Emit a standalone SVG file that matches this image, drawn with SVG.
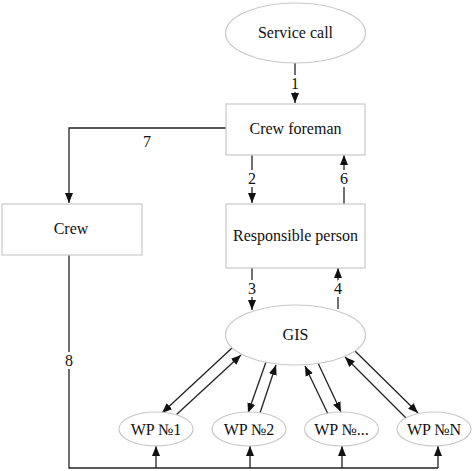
<svg xmlns="http://www.w3.org/2000/svg" width="474" height="471" viewBox="0 0 474 471">
<style>
.node{fill:#fff;stroke:#c8c8c8;stroke-width:1.2}
text{font-family:'Liberation Serif','Times New Roman',Times,serif;font-size:16px;fill:#111;text-anchor:middle}
.lbl{stroke:#fff;stroke-width:6;paint-order:stroke}
.c{fill:none;stroke:#222;stroke-width:1.3}
.a{marker-end:url(#ah)}
</style>
<defs>
<marker id="ah" markerUnits="userSpaceOnUse" markerWidth="10" markerHeight="10" viewBox="0 0 10 10" refX="10" refY="5" orient="auto">
<path d="M0,1 L10,5 L0,9 z" fill="#111"/>
</marker>
</defs>
<rect width="474" height="471" fill="#fff"/>
<g id="connectors">
<path class="c a" d="M295,63 V103"/>
<path class="c a" d="M226,128 H69 V203"/>
<path class="c a" d="M252,155 V203"/>
<path class="c a" d="M344,204 V155"/>
<path class="c a" d="M252,268 V310"/>
<path class="c a" d="M338,309 V268"/>
<path class="c" d="M69,255 V468 H438"/>
<path class="c a" d="M156,468 V446"/>
<path class="c a" d="M250,468 V446"/>
<path class="c a" d="M342,468 V446"/>
<path class="c a" d="M438,468 V446"/>
<path class="c a" d="M232,348 L162,413"/>
<path class="c a" d="M176,415 L241,355"/>
<path class="c a" d="M266,362 L248,413"/>
<path class="c a" d="M260,413 L276,365"/>
<path class="c a" d="M328,414 L305,366"/>
<path class="c a" d="M318,363 L341,412"/>
<path class="c a" d="M406,418 L345,357"/>
<path class="c a" d="M355,351 L418,413"/>
<text class="lbl" x="295" y="89" font-family="Liberation Serif, serif">1</text>
<text class="lbl" x="147" y="147" font-family="Liberation Serif, serif">7</text>
<text class="lbl" x="252" y="184" font-family="Liberation Serif, serif">2</text>
<text class="lbl" x="344" y="184" font-family="Liberation Serif, serif">6</text>
<text class="lbl" x="252" y="294" font-family="Liberation Serif, serif">3</text>
<text class="lbl" x="338" y="294" font-family="Liberation Serif, serif">4</text>
<text class="lbl" x="69" y="366" font-family="Liberation Serif, serif">8</text>
</g>
<g id="service-call">
<ellipse class="node" cx="295.5" cy="33" rx="70" ry="30"/>
<text x="295.5" y="38">Service call</text>
</g>
<g id="crew-foreman">
<rect class="node" x="226" y="104" width="139" height="51"/>
<text x="295.5" y="134">Crew foreman</text>
</g>
<g id="crew">
<rect class="node" x="2" y="204" width="140" height="51"/>
<text x="71" y="234">Crew</text>
</g>
<g id="responsible-person">
<rect class="node" x="226" y="204" width="139" height="64"/>
<text x="295.5" y="241">Responsible person</text>
</g>
<g id="gis">
<ellipse class="node" cx="295.5" cy="335" rx="70" ry="30"/>
<text x="295.5" y="340">GIS</text>
</g>
<g id="wp1">
<ellipse class="node" cx="156" cy="429" rx="37" ry="17"/>
<text x="156" y="435">WP №1</text>
</g>
<g id="wp2">
<ellipse class="node" cx="249" cy="429" rx="37" ry="17"/>
<text x="249" y="435">WP №2</text>
</g>
<g id="wp-dots">
<ellipse class="node" cx="341.5" cy="429" rx="37" ry="17"/>
<text x="341.5" y="435">WP №...</text>
</g>
<g id="wpN">
<ellipse class="node" cx="434" cy="429" rx="37" ry="17"/>
<text x="434" y="435">WP №N</text>
</g>
</svg>
